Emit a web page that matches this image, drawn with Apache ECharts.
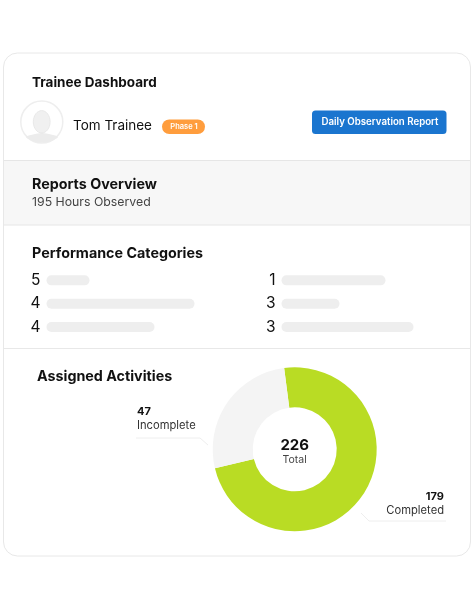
<!DOCTYPE html>
<html>
<head>
<meta charset="utf-8">
<style>html,body{margin:0;padding:0;background:#fff}#c{width:474px;height:609px}</style>
<script src="https://cdn.jsdelivr.net/npm/echarts@6/dist/echarts.min.js"></script>
</head>
<body>
<div id="c"></div>
<script>
// Activity donut: the values are the printed ones.
const activityNames = ['Completed', 'Incomplete'];
const activityValues = [179, 47];
const activityTotal = 226;
// Skeleton bars: lengths; numbers are the printed row labels.
const leftRowLabels = ['5', '4', '4'];
const leftBarLengths = [43, 148, 108];
const rightRowLabels = ['1', '3', '3'];
const rightBarLengths = [104, 58, 132];

const F = 'Inter, "Noto Sans", sans-serif';
const INK = '#111111';
const BAR = '#eeeeee';

function txt(x, y, text, size, weight, fill, align) {
  return { type: 'text', silent: true, x: x, y: y, z: 20,
    style: { text: text, fontFamily: F, fontSize: size, fontWeight: weight, fill: fill,
             align: align || 'left', verticalAlign: 'middle' } };
}
function line(points, color) {
  return { type: 'polyline', silent: true, z: 5, shape: { points: points },
    style: { stroke: color, lineWidth: 1, fill: null } };
}
const rowGrid = (left, width) => ({ left: left, top: 268.7, width: width, height: 70 });
const catAxis = (idx, labels) => ({ type: 'category', gridIndex: idx, inverse: true, data: labels,
  axisLine: { show: false }, axisTick: { show: false },
  axisLabel: { fontFamily: F, fontSize: 15.5, color: INK, margin: 6, align: 'right' } });
const valAxis = (idx, width) => ({ type: 'value', gridIndex: idx, min: 0, max: width, show: false });
const barSeries = (idx, data) => ({ type: 'bar', xAxisIndex: idx, yAxisIndex: idx, data: data,
  barWidth: 10, silent: true, itemStyle: { color: BAR, borderRadius: 5 } });

const chart = echarts.init(document.getElementById('c'), null, { renderer: 'canvas' });
chart.setOption({
  animation: false,
  backgroundColor: '#ffffff',
  grid: [rowGrid(46.5, 160), rowGrid(281.5, 160)],
  xAxis: [valAxis(0, 160), valAxis(1, 160)],
  yAxis: [catAxis(0, leftRowLabels), catAxis(1, rightRowLabels)],
  series: [
    barSeries(0, leftBarLengths),
    barSeries(1, rightBarLengths),
    { type: 'pie', silent: true, center: [294.7, 449.3], radius: [42, 82],
      startAngle: 97.4, clockwise: true,
      // The reference draws the Incomplete arc wider than 47/226 would give (about 96 degrees).
      minAngle: 96,
      label: { show: false }, labelLine: { show: false }, z: 6,
      data: [
        { name: activityNames[0], value: activityValues[0], itemStyle: { color: '#b9dc24' } },
        { name: activityNames[1], value: activityValues[1], itemStyle: { color: '#f4f4f4' } }
      ] }
  ],
  graphic: { elements: [
    { type: 'rect', silent: true, z: 0, shape: { x: 3.5, y: 53, width: 467, height: 503, r: 14 },
      style: { fill: '#ffffff', stroke: '#e8e8e8', lineWidth: 1 } },
    { type: 'rect', silent: true, z: 1, shape: { x: 4, y: 160.5, width: 466, height: 64.5 },
      style: { fill: '#f7f7f7', stroke: null } },
    line([[4, 160.5], [470, 160.5]], '#e6e6e6'),
    line([[4, 225], [470, 225]], '#e6e6e6'),
    line([[4, 348.5], [470, 348.5]], '#e8e8e8'),

    txt(32, 82.5, 'Trainee Dashboard', 13.5, 700, INK),
    { type: 'circle', silent: true, z: 3, shape: { cx: 41.8, cy: 122, r: 21 },
      style: { fill: '#ffffff', stroke: '#eeeeee', lineWidth: 1.5 } },
    { type: 'polygon', silent: true, z: 4,
      shape: { smooth: 0.3, points: [[26, 137], [33, 134.5], [42, 133], [51, 134.5], [58, 137], [50, 141.5], [42, 142.5], [34, 141.5]] },
      style: { fill: '#ececec' } },
    { type: 'ellipse', silent: true, z: 4, shape: { cx: 41.7, cy: 121.8, rx: 8.4, ry: 11.2 },
      style: { fill: '#f0f0f0', stroke: '#e4e4e4', lineWidth: 0.8 } },
    txt(73, 126, 'Tom Trainee', 13.5, 400, INK),
    { type: 'rect', silent: true, z: 4, shape: { x: 162, y: 119.5, width: 43, height: 14.5, r: 7.25 },
      style: { fill: '#ff9d3d' } },
    txt(184, 127, 'Phase 1', 7.5, 600, '#ffffff', 'center'),
    { type: 'rect', silent: true, z: 4, shape: { x: 312, y: 110.5, width: 134.5, height: 23.5, r: 3.5 },
      style: { fill: '#1a75cf' } },
    txt(380, 122.5, 'Daily Observation Report', 9.7, 600, '#ffffff', 'center'),

    txt(32, 185, 'Reports Overview', 14.3, 700, INK),
    txt(32, 202, '195 Hours Observed', 12.3, 400, '#444444'),
    txt(32, 254, 'Performance Categories', 14.3, 700, INK),
    txt(37, 377, 'Assigned Activities', 14.3, 700, INK),

    txt(137, 411.5, String(activityValues[1]), 11, 700, INK),
    txt(137, 426, activityNames[1], 11.2, 400, '#333333'),
    line([[136, 438], [200, 438], [208, 445]], '#eeeeee'),
    txt(444, 497, String(activityValues[0]), 11, 700, INK, 'right'),
    txt(444, 510.5, activityNames[0], 11.2, 400, '#333333', 'right'),
    line([[446, 521], [369, 521], [361, 513]], '#eeeeee'),

    txt(294.7, 445, String(activityTotal), 15, 700, INK, 'center'),
    txt(294.7, 459.5, 'Total', 10.5, 400, '#444444', 'center')
  ] }
});
</script>
</body>
</html>
